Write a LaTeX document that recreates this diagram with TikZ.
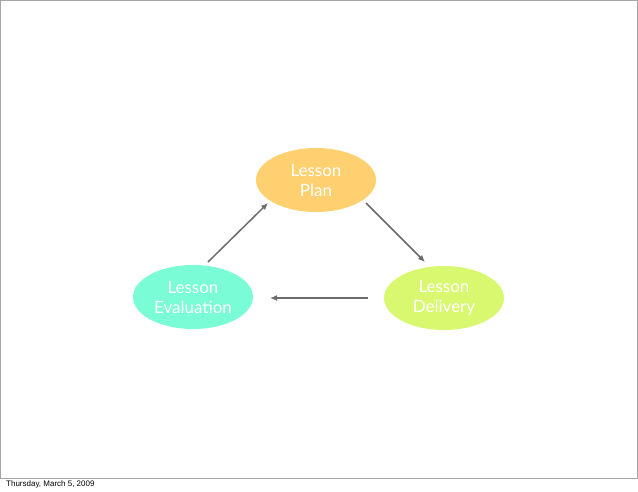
\documentclass[tikz,border=0pt]{standalone}
\usepackage{fontspec}
\usetikzlibrary{shapes.geometric,arrows.meta}
\setmainfont{Lato}
\newfontfamily\captionfnt{Liberation Sans}
\begin{document}
\begin{tikzpicture}[x=1pt,y=-1pt,
  oval/.style={ellipse,minimum width=120pt,minimum height=64pt,text=white,font=\fontsize{17}{20}\selectfont,align=center,inner sep=0pt},
  arr/.style={draw=gray!85!black,line width=1.5pt,-{Latex[length=7pt,width=6pt]}}]
\useasboundingbox (0,0) rectangle (638,491);
\fill[white] (0,0) rectangle (638,491);
\draw[gray!70,line width=0.8pt] (0.5,0.5) rectangle (637.5,478);
\node[oval,fill={rgb,255:red,255;green,208;blue,112}] (plan) at (316,180) {Lesson\\Plan};
\node[oval,fill={rgb,255:red,122;green,252;blue,214}] (eval) at (193,297) {Lesson\\Evaluation};
\node[oval,fill={rgb,255:red,216;green,248;blue,112}] (del) at (444,298) {Lesson\\Delivery};
\coordinate (a1) at (208,262); \coordinate (a2) at (268,203);
\coordinate (b1) at (366,203); \coordinate (b2) at (425,262);
\coordinate (c1) at (368,298); \coordinate (c2) at (270,298);
\draw[arr] (a1) -- (a2);
\draw[arr] (b1) -- (b2);
\draw[arr] (c1) -- (c2);
\node[anchor=west,font=\captionfnt\fontsize{8}{9}\selectfont,inner sep=0pt] (date) at (6,484.5) {Thursday, March 5, 2009};
\end{tikzpicture}
\end{document}
